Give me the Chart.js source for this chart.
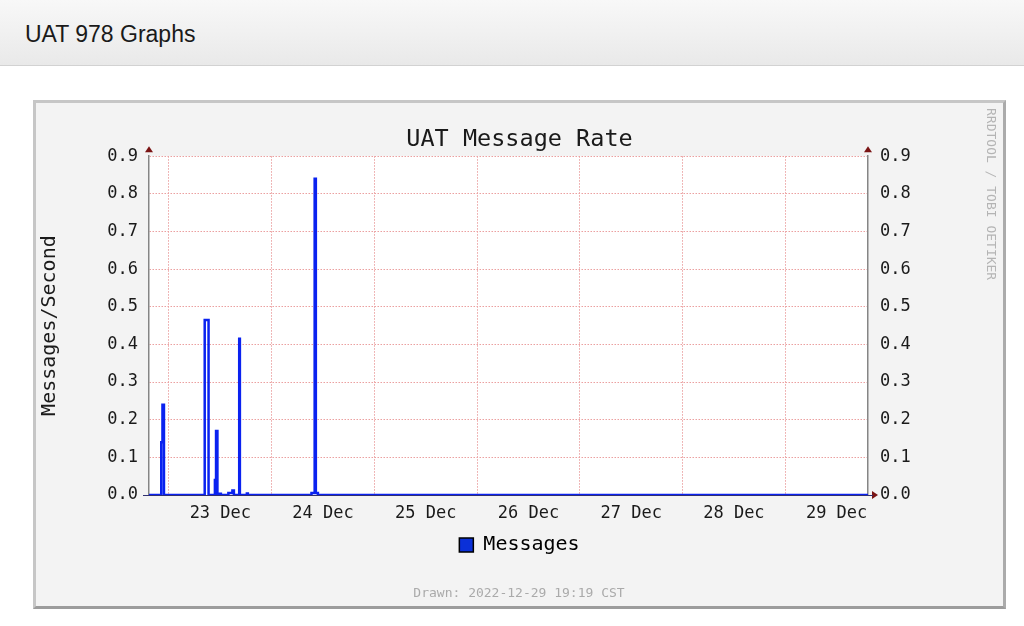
<!DOCTYPE html>
<html>
<head>
<meta charset="utf-8">
<script src="https://cdn.jsdelivr.net/npm/chart.js@4.4.0/dist/chart.umd.min.js"></script>
<style>
  html, body { margin: 0; padding: 0; background: #fff; width: 1024px; height: 626px; overflow: hidden; }
  .header {
    position: absolute; left: 0; top: 0; width: 1024px; height: 66px;
    background: linear-gradient(#f8f8f8, #e9e9e9);
    border-bottom: 1px solid #d2d2d2; box-sizing: border-box;
  }
  .header h1 {
    margin: 0; position: absolute; left: 25px; top: 21px;
    font: 23px "Liberation Sans", Arial, sans-serif; color: #1a1a1a; font-weight: normal;
  }
  .graph {
    position: absolute; left: 33px; top: 100px; width: 973px; height: 509px;
    box-sizing: border-box; background: #f3f3f3;
    border: 3px solid #c6c6c6; border-bottom-color: #9c9c9c; border-right-color: #ababab;
  }
  #chart { position: absolute; left: 0; top: 0; }
</style>
</head>
<body>
<div class="header"><h1>UAT 978 Graphs</h1></div>
<div class="graph"><canvas id="chart" width="967" height="503"></canvas></div>
<script>
// hours from 23 Dec 00:00, each value holds until the next point
const sampleHours = [-4.667, -1.80, -1.52, -1.17, 8.35, 9.25, 10.73, 11.0, 11.32, 12.13,
  13.88, 14.82, 15.17, 16.41, 16.57, 18.2, 18.43, 33.3, 34.04, 34.32, 34.8, 163.333];
const msgRate = [0, 0.14, 0.24, 0, 0.465, 0, 0.04, 0.17, 0.003, 0,
  0.005, 0.012, 0, 0.415, 0, 0.004, 0, 0.005, 0.84, 0.005, 0, 0];
const dayLabels = ["23 Dec", "24 Dec", "25 Dec", "26 Dec", "27 Dec", "28 Dec", "29 Dec"];
const yTicks = [0, 0.1, 0.2, 0.3, 0.4, 0.5, 0.6, 0.7, 0.8, 0.9];

const mono = "'DejaVu Sans Mono', monospace";
const gridColor = "#eba0a0";
const lineColor = "#0a22f0";

// x ticks every 12h: grid at midnight, label at noon
const xTicks = [];
for (let i = 0; i < dayLabels.length; i++) {
  xTicks.push(i * 24, i * 24 + 12);
}

const points = sampleHours.map((h, i) => ({ x: h, y: msgRate[i] }));

const rrdExtras = {
  id: "rrdExtras",
  beforeInit(chart) {
    // fixed legend height so the plot area lands where it should
    const fit = chart.legend.fit;
    chart.legend.fit = function () {
      fit.call(this);
      this.height = 42;
    };
  },
  beforeDraw(chart) {
    const a = chart.chartArea;
    chart.ctx.save();
    chart.ctx.fillStyle = "#fff";
    chart.ctx.fillRect(a.left, a.top, a.right - a.left, a.bottom - a.top);
    chart.ctx.restore();
  },
  afterDraw(chart) {
    const ctx = chart.ctx;
    const a = chart.chartArea;
    ctx.save();
    // arrows on the axes
    ctx.fillStyle = "#7a1414";
    [[a.left, a.top - 10], [a.right, a.top - 10]].forEach(([x, y]) => {
      ctx.beginPath();
      ctx.moveTo(x, y);
      ctx.lineTo(x - 4, y + 6);
      ctx.lineTo(x + 4, y + 6);
      ctx.fill();
    });
    ctx.beginPath();
    ctx.moveTo(a.right + 10, a.bottom);
    ctx.lineTo(a.right + 4, a.bottom - 4);
    ctx.lineTo(a.right + 4, a.bottom + 4);
    ctx.fill();
    ctx.strokeStyle = "#303070";
    ctx.lineWidth = 1;
    ctx.beginPath();
    ctx.moveTo(a.left - 6, a.bottom + 0.5);
    ctx.lineTo(a.right + 5, a.bottom + 0.5);
    ctx.stroke();

    ctx.fillStyle = "#aaa";
    ctx.font = "13px " + mono;
    ctx.textAlign = "center";
    ctx.textBaseline = "middle";
    ctx.fillText("Drawn: 2022-12-29 19:19 CST", 483, 491);

    ctx.translate(954, 5);
    ctx.rotate(Math.PI / 2);
    ctx.textAlign = "left";
    ctx.fillStyle = "#b4b4b4";
    ctx.fillText("RRDTOOL / TOBI OETIKER", 0, 0);
    ctx.restore();
  },
};

new Chart(document.getElementById("chart"), {
  type: "line",
  data: {
    datasets: [
      {
        label: "Messages",
        data: points,
        stepped: true,
        borderColor: lineColor,
        backgroundColor: lineColor,
        borderWidth: 2.5,
        pointRadius: 0,
        fill: false,
      },
    ],
  },
  options: {
    responsive: false,
    animation: false,
    layout: { padding: { top: 0, left: 0, right: 0, bottom: 39 } },
    plugins: {
      title: {
        display: true,
        text: "UAT Message Rate",
        color: "#1a1a1a",
        font: { family: mono, size: 23.5, weight: "normal" },
        padding: { top: 23, bottom: 2 },
      },
      legend: {
        position: "bottom",
        labels: {
          color: "#1a1a1a",
          font: { family: mono, size: 20 },
          boxWidth: 14,
          boxHeight: 14,
          padding: 10,
          generateLabels: (chart) => [
            {
              text: chart.data.datasets[0].label,
              fillStyle: "#0a30d8",
              strokeStyle: "#000",
              lineWidth: 1.5,
              hidden: false,
              datasetIndex: 0,
            },
          ],
        },
      },
      tooltip: { enabled: false },
    },
    scales: {
      x: {
        type: "linear",
        min: sampleHours[0],
        max: sampleHours[sampleHours.length - 1],
        afterBuildTicks: (axis) => {
          axis.ticks = xTicks.map((v) => ({ value: v }));
        },
        afterFit: (axis) => {
          axis.height = 30;
        },
        ticks: {
          autoSkip: false,
          maxRotation: 0,
          padding: 8,
          color: "#1a1a1a",
          font: { family: mono, size: 17 },
          callback: (v) => (v % 24 === 12 ? dayLabels[(v - 12) / 24] : ""),
        },
        grid: {
          drawTicks: false,
          color: (c) => (c.tick && c.tick.value % 24 === 0 ? gridColor : "rgba(0,0,0,0)"),
          borderDash: [1.5, 1.5],
        },
        border: { display: false, dash: [1.5, 1.5] },
      },
      y: {
        position: "left",
        min: 0,
        max: 0.9,
        afterBuildTicks: (axis) => {
          axis.ticks = yTicks.map((v) => ({ value: v }));
        },
        afterFit: (axis) => {
          axis.width = 113;
        },
        title: {
          display: true,
          text: "Messages/Second",
          color: "#1a1a1a",
          font: { family: mono, size: 20 },
          padding: { top: 2, bottom: 0 },
        },
        ticks: {
          padding: 11,
          color: "#1a1a1a",
          font: { family: mono, size: 17 },
          callback: (v) => v.toFixed(1),
        },
        grid: { drawTicks: false, color: gridColor, borderDash: [1.5, 1.5] },
        border: { color: "#858585", width: 1.5, dash: [1.5, 1.5] },
      },
      yRight: {
        position: "right",
        min: 0,
        max: 0.9,
        afterBuildTicks: (axis) => {
          axis.ticks = yTicks.map((v) => ({ value: v }));
        },
        afterFit: (axis) => {
          axis.width = 135;
        },
        ticks: {
          padding: 12,
          color: "#1a1a1a",
          font: { family: mono, size: 17 },
          callback: (v) => v.toFixed(1),
        },
        grid: { display: false, drawTicks: false },
        border: { color: "#858585", width: 1.5 },
      },
    },
  },
  plugins: [rrdExtras],
});
</script>
</body>
</html>
